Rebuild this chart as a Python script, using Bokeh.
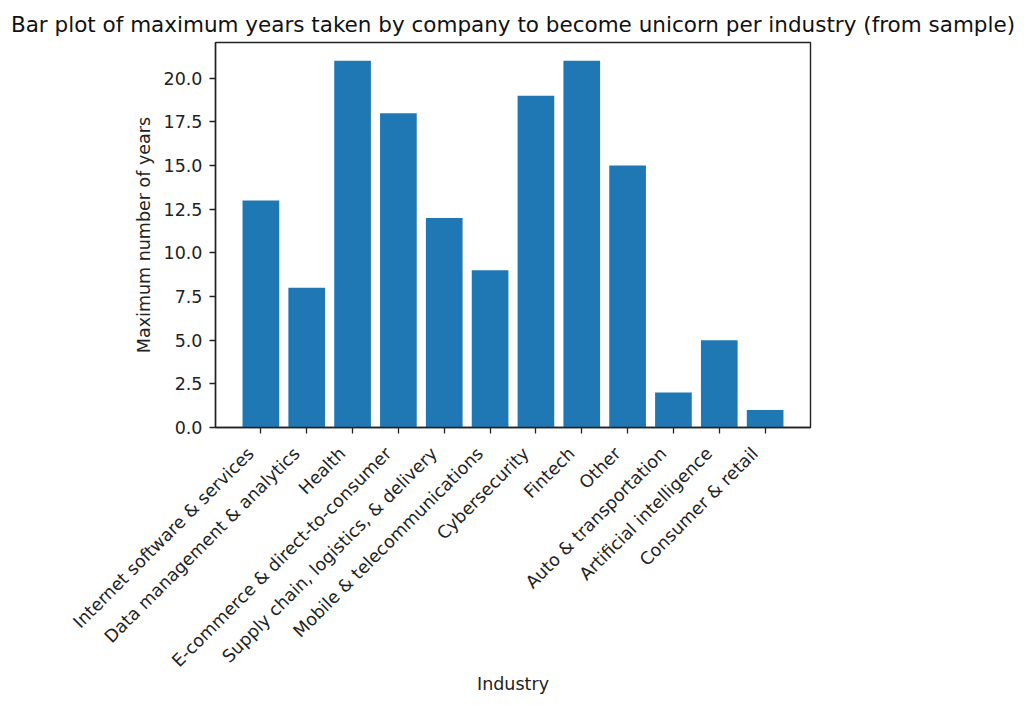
import math
from bokeh.models import ColumnDataSource, Range1d, FixedTicker, LinearAxis
from bokeh.plotting import figure
from bokeh.embed import file_html
from bokeh.resources import INLINE

industries = [
    "Internet software & services",
    "Data management & analytics",
    "Health",
    "E-commerce & direct-to-consumer",
    "Supply chain, logistics, & delivery",
    "Mobile & telecommunications",
    "Cybersecurity",
    "Fintech",
    "Other",
    "Auto & transportation",
    "Artificial intelligence",
    "Consumer & retail",
]
max_years = [13, 8, 21, 18, 12, 9, 19, 21, 15, 2, 5, 1]
y_ticks = [0.0, 2.5, 5.0, 7.5, 10.0, 12.5, 15.0, 17.5, 20.0]

positions = list(range(len(industries)))
source = ColumnDataSource(data=dict(pos=positions, industry=industries, years=max_years))

# matplotlib style margins: bars 0.8 wide, 5% padding on each side
margin = 0.05 * (len(industries) - 1 + 0.8)
x_lo, x_hi = -0.4 - margin, len(industries) - 1 + 0.4 + margin

p = figure(
    x_range=Range1d(x_lo, x_hi), y_range=Range1d(0, 22.05),
    width=1016, height=705,
    title="Bar plot of maximum years taken by company to become unicorn per industry (from sample)",
    output_backend="svg", toolbar_location=None, tools="",
    min_border_left=215, min_border_right=206, min_border_top=42, min_border_bottom=278,
)

p.vbar(x="pos", top="years", width=0.8, source=source,
       fill_color="#1f77b4", line_color=None)

p.title.align = "center"
p.title.text_font = "DejaVu Sans"
p.title.text_font_size = "21.5px"
p.title.text_font_style = "normal"
p.title.text_color = "#111111"
p.title.standoff = 12

p.xgrid.grid_line_color = None
p.ygrid.grid_line_color = None
p.outline_line_color = "#222222"
p.outline_line_width = 1.4
p.background_fill_color = "white"
p.border_fill_color = "white"


def style_axis(ax):
    ax.axis_line_color = "#222222"
    ax.axis_line_width = 1.4
    ax.major_tick_line_color = "#222222"
    ax.major_tick_line_width = 1.3
    ax.major_tick_out = 6
    ax.major_tick_in = 0
    ax.minor_tick_line_color = None
    ax.major_label_text_font = "DejaVu Sans"
    ax.major_label_text_font_size = "17.5px"
    ax.major_label_text_color = "#222222"
    ax.axis_label_text_font = "DejaVu Sans"
    ax.axis_label_text_font_size = "17.5px"
    ax.axis_label_text_font_style = "normal"
    ax.axis_label_text_color = "#222222"


style_axis(p.xaxis[0])
style_axis(p.yaxis[0])

p.yaxis.ticker = FixedTicker(ticks=y_ticks)
p.yaxis.major_label_overrides = {t: "%.1f" % t for t in y_ticks}
p.yaxis.axis_label = "Maximum number of years"
p.yaxis.major_label_standoff = 7
p.yaxis.axis_label_standoff = 7

# first x axis: tick marks only
p.xaxis.ticker = FixedTicker(ticks=positions)
p.xaxis.major_label_overrides = {i: "" for i in positions}
p.xaxis.major_label_standoff = 0

# second axis carries the rotated names, anchored like matplotlib (ha="right")
shift = 0.22
p.extra_x_ranges = {"names": Range1d(x_lo + shift, x_hi + shift)}
name_axis = LinearAxis(x_range_name="names", ticker=FixedTicker(ticks=positions),
                       major_label_overrides={i: name for i, name in zip(positions, industries)})
style_axis(name_axis)
name_axis.axis_line_color = None
name_axis.major_tick_line_color = None
name_axis.major_tick_out = 0
name_axis.major_label_orientation = math.pi / 4
name_axis.major_label_standoff = 17
name_axis.axis_label = "Industry"
name_axis.axis_label_standoff = -7
p.add_layout(name_axis, "below")

open("out.html", "w").write(file_html(p, INLINE))
